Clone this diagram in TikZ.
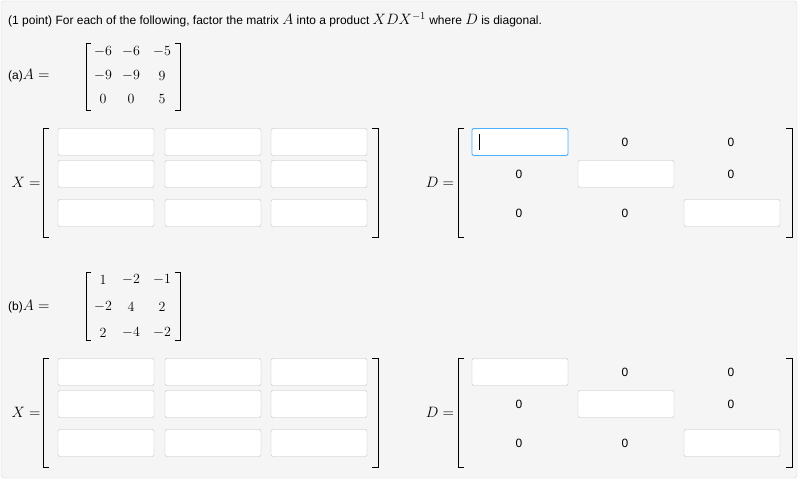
\documentclass[tikz,border=0pt]{standalone}
\usepackage{fix-cm}
\usepackage{fontspec}
\setsansfont{Liberation Sans}
\begin{document}
\begin{tikzpicture}[x=1pt,y=-1pt,
 inbox/.style={draw=black!25,rounded corners=2pt,fill=white,minimum width=96pt,minimum height=27pt,inner sep=0pt},
 brk/.style={line width=0.9pt},
 lbl/.style={font=\sffamily\fontsize{12}{14}\selectfont,anchor=west,inner sep=0pt},
 num/.style={font=\fontsize{14}{16}\selectfont,inner sep=0pt},
 zero/.style={font=\sffamily\fontsize{12}{14}\selectfont,inner sep=0pt}]
\useasboundingbox (0,0) rectangle (808,503);
\fill[white] (0,0) rectangle (808,503);
\draw[fill=black!4,draw=black!15,rounded corners=3pt] (1,1) rectangle (797,478);
\node[lbl] (title) at (8,20) {(1 point) For each of the following, factor the matrix \rmfamily\fontsize{15}{16}\selectfont$A$\sffamily\fontsize{12}{14}\selectfont{} into a product \rmfamily\fontsize{15}{16}\selectfont$XDX^{-1}$\sffamily\fontsize{12}{14}\selectfont{} where \rmfamily\fontsize{15}{16}\selectfont$D$\sffamily\fontsize{12}{14}\selectfont{} is diagonal.};
% (a)
\node[lbl] (la) at (8,76) {(a)\rmfamily\fontsize{15}{16}\selectfont$A=$};
\draw[brk] (91,43) -- (86,43) -- (86,110) -- (91,110);
\draw[brk] (175,43) -- (180,43) -- (180,110) -- (175,110);
\foreach \r/\y in {{{$-6$},{$-6$},{$-5$}}/52,{{$-9$},{$-9$},{9}}/76,{{0},{0},{5}}/99}{
 \foreach \t [count=\c] in \r { \node[num] (a\c\y) at ({75+\c*28+(\c==3?3:0)},\y) {\t}; } }
% (b)
\node[lbl] (lb) at (8,307) {(b)\rmfamily\fontsize{15}{16}\selectfont$A=$};
\draw[brk] (91,272) -- (86,272) -- (86,340) -- (91,340);
\draw[brk] (175,272) -- (180,272) -- (180,340) -- (175,340);
\foreach \r/\y in {{{1},{$-2$},{$-1$}}/280,{{$-2$},{4},{2}}/307,{{2},{$-4$},{$-2$}}/333}{
 \foreach \t [count=\c] in \r { \node[num] (b\c\y) at ({75+\c*28+(\c==3?3:0)},\y) {\t}; } }
% X and D matrices
\foreach \oy/\nm in {0/p,230/q}{
 \node[num,font=\fontsize{15}{16}\selectfont] (X\nm) at (26,182+\oy) {$X=$};
 \draw[brk] (49,128+\oy) -- (43,128+\oy) -- (43,237+\oy) -- (49,237+\oy);
 \draw[brk] (372,128+\oy) -- (378,128+\oy) -- (378,237+\oy) -- (372,237+\oy);
 \foreach \x in {106,213,319}{ \foreach \y in {142,174,213}{
   \node[inbox] (x\nm\x\y) at (\x,\y+\oy) {}; } }
 \node[num,font=\fontsize{15}{16}\selectfont] (D\nm) at (440,182+\oy) {$D=$};
 \draw[brk] (464,128+\oy) -- (458,128+\oy) -- (458,237+\oy) -- (464,237+\oy);
 \draw[brk] (786,128+\oy) -- (792,128+\oy) -- (792,237+\oy) -- (786,237+\oy);
 \node[inbox] (d1\nm) at (520,142+\oy) {};
 \node[inbox] (d2\nm) at (626,174+\oy) {};
 \node[inbox] (d3\nm) at (732,213+\oy) {};
 \node[zero] (z12\nm) at (625,142+\oy) {0};
 \node[zero] (z13\nm) at (731,142+\oy) {0};
 \node[zero] (z21\nm) at (519,174+\oy) {0};
 \node[zero] (z23\nm) at (731,174+\oy) {0};
 \node[zero] (z31\nm) at (519,213+\oy) {0};
 \node[zero] (z32\nm) at (625,213+\oy) {0};
}
\node[inbox,draw=blue!45!cyan!70,line width=0.9pt] (focus) at (520,142) {};
\draw[line width=0.7pt] (479,134) -- (479,150);
\end{tikzpicture}
\end{document}
